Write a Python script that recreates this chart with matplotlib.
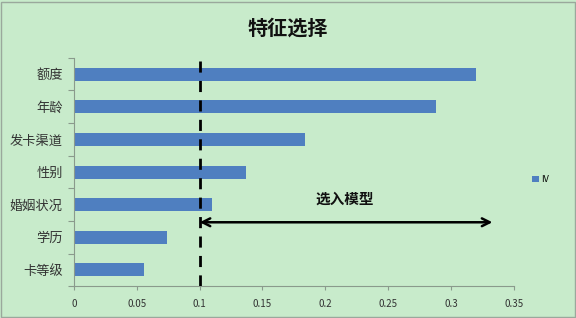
import matplotlib
matplotlib.use('Agg')
import matplotlib.pyplot as plt
import numpy as np

plt.rcParams['font.family'] = ['Noto Sans CJK SC', 'DejaVu Sans']

# data
features = ['额度', '年龄', '发卡渠道', '性别', '婚姻状况', '学历', '卡等级']
iv_values = [0.320, 0.288, 0.184, 0.137, 0.110, 0.074, 0.056]
x_ticks = [0, 0.05, 0.1, 0.15, 0.2, 0.25, 0.3, 0.35]
x_ticklabels = ['0', '0.05', '0.1', '0.15', '0.2', '0.25', '0.3', '0.35']
threshold = 0.1
arrow_end = 0.333

BG = '#c8ebcb'
BAR = '#4f7fc0'
GRID = '#8a9a8c'

fig = plt.figure(figsize=(5.76, 3.18), dpi=100, facecolor=BG)
ax = fig.add_axes([0.1285, 0.1, 0.7635, 0.718])
ax.set_facecolor(BG)

ypos = np.arange(len(features))
ax.barh(ypos, iv_values, height=0.4, color=BAR, label='IV', zorder=2)

ax.set_ylim(len(features) - 0.5, -0.5)
ax.set_xlim(0, 0.35)
ax.set_yticks(np.arange(-0.5, len(features), 1), minor=False)
ax.set_yticklabels([])
ax.set_yticks(ypos, minor=True)
ax.set_yticklabels(features, minor=True, fontsize=9.5, color='#333333')
ax.tick_params(axis='y', which='minor', length=0, pad=8)
ax.tick_params(axis='y', which='major', length=4, color=GRID, direction='out')

ax.set_xticks(x_ticks)
ax.set_xticklabels(x_ticklabels, fontsize=7, color='#333333')
ax.tick_params(axis='x', length=3, color=GRID, pad=6)

for s in ['top', 'right']:
    ax.spines[s].set_visible(False)
for s in ['left', 'bottom']:
    ax.spines[s].set_color(GRID)
    ax.spines[s].set_linewidth(0.8)

# threshold line
ax.axvline(threshold, color='black', linestyle=(0, (4, 3)), linewidth=2, zorder=3)

# arrow and text
ax.annotate('', xy=(arrow_end, 4.54), xytext=(threshold, 4.54),
            arrowprops=dict(arrowstyle='<->', color='black', lw=1.8,
                            mutation_scale=14, shrinkA=0, shrinkB=0), zorder=4)
ax.text(0.2156, 3.83, '选入模型', fontsize=10.5, fontweight='bold',
        ha='center', va='center', color='#111111')

fig.text(0.5, 0.912, '特征选择', fontsize=14.5, fontweight='bold',
         ha='center', va='center', color='#111111')

leg = fig.legend(loc='center left', bbox_to_anchor=(0.91, 0.435), frameon=False,
                 fontsize=6.5, handlelength=0.7, handleheight=0.7, handletextpad=0.3)

# outer border
fig.patches.append(plt.Rectangle((0.002, 0.004), 0.996, 0.99, transform=fig.transFigure,
                                 fill=False, edgecolor='#9aa89c', linewidth=1))

plt.savefig('out.png', dpi=100, facecolor=BG)
